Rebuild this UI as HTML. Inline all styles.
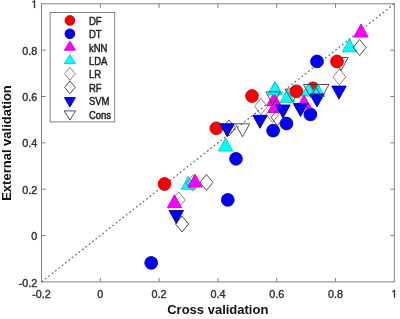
<!DOCTYPE html>
<html><head><meta charset="utf-8"><style>
html,body{margin:0;padding:0;background:#fff;width:400px;height:319px;overflow:hidden}
svg{display:block;filter:blur(0.45px)}
text{font-family:"Liberation Sans",sans-serif}
.tl{font-size:10.8px;fill:#333;stroke:#333;stroke-width:0.4px}
.al{font-size:13px;font-weight:bold;fill:#111}
.lg{font-size:9.5px;fill:#222;stroke:#222;stroke-width:0.4px}
</style></head><body>
<svg width="400" height="319" viewBox="0 0 400 319">
<rect x="41.5" y="3.8" width="352.8" height="278.09999999999997" fill="#fff" stroke="#808080" stroke-width="1"/>
<line x1="100.30" y1="281.9" x2="100.30" y2="277.9" stroke="#808080" stroke-width="1"/>
<line x1="100.30" y1="3.8" x2="100.30" y2="7.8" stroke="#808080" stroke-width="1"/>
<line x1="41.5" y1="235.55" x2="45.5" y2="235.55" stroke="#808080" stroke-width="1"/>
<line x1="394.3" y1="235.55" x2="390.3" y2="235.55" stroke="#808080" stroke-width="1"/>
<line x1="159.10" y1="281.9" x2="159.10" y2="277.9" stroke="#808080" stroke-width="1"/>
<line x1="159.10" y1="3.8" x2="159.10" y2="7.8" stroke="#808080" stroke-width="1"/>
<line x1="41.5" y1="189.20" x2="45.5" y2="189.20" stroke="#808080" stroke-width="1"/>
<line x1="394.3" y1="189.20" x2="390.3" y2="189.20" stroke="#808080" stroke-width="1"/>
<line x1="217.90" y1="281.9" x2="217.90" y2="277.9" stroke="#808080" stroke-width="1"/>
<line x1="217.90" y1="3.8" x2="217.90" y2="7.8" stroke="#808080" stroke-width="1"/>
<line x1="41.5" y1="142.85" x2="45.5" y2="142.85" stroke="#808080" stroke-width="1"/>
<line x1="394.3" y1="142.85" x2="390.3" y2="142.85" stroke="#808080" stroke-width="1"/>
<line x1="276.70" y1="281.9" x2="276.70" y2="277.9" stroke="#808080" stroke-width="1"/>
<line x1="276.70" y1="3.8" x2="276.70" y2="7.8" stroke="#808080" stroke-width="1"/>
<line x1="41.5" y1="96.50" x2="45.5" y2="96.50" stroke="#808080" stroke-width="1"/>
<line x1="394.3" y1="96.50" x2="390.3" y2="96.50" stroke="#808080" stroke-width="1"/>
<line x1="335.50" y1="281.9" x2="335.50" y2="277.9" stroke="#808080" stroke-width="1"/>
<line x1="335.50" y1="3.8" x2="335.50" y2="7.8" stroke="#808080" stroke-width="1"/>
<line x1="41.5" y1="50.15" x2="45.5" y2="50.15" stroke="#808080" stroke-width="1"/>
<line x1="394.3" y1="50.15" x2="390.3" y2="50.15" stroke="#808080" stroke-width="1"/>
<line x1="41.5" y1="281.9" x2="394.3" y2="3.8" stroke="#606060" stroke-width="1.1" stroke-dasharray="1.9 2.4"/>
<polygon points="333.80,57.50 348.20,57.50 341,70.50" fill="none" stroke="#404040" stroke-width="0.9"/>
<circle cx="164.5" cy="184" r="6.4" fill="#ff0000" stroke="#b00000" stroke-width="0.8"/>
<circle cx="216.3" cy="128.3" r="6.4" fill="#ff0000" stroke="#b00000" stroke-width="0.8"/>
<circle cx="252" cy="96" r="6.4" fill="#ff0000" stroke="#b00000" stroke-width="0.8"/>
<circle cx="313" cy="88.3" r="6.4" fill="#ff0000" stroke="#b00000" stroke-width="0.8"/>
<circle cx="337" cy="61.5" r="6.4" fill="#ff0000" stroke="#b00000" stroke-width="0.8"/>
<circle cx="151.2" cy="262.9" r="6.4" fill="#0000ff" stroke="#000090" stroke-width="0.8"/>
<circle cx="227.8" cy="199.9" r="6.4" fill="#0000ff" stroke="#000090" stroke-width="0.8"/>
<circle cx="236" cy="158.8" r="6.4" fill="#0000ff" stroke="#000090" stroke-width="0.8"/>
<circle cx="273.1" cy="130.6" r="6.4" fill="#0000ff" stroke="#000090" stroke-width="0.8"/>
<circle cx="286.5" cy="123.5" r="6.4" fill="#0000ff" stroke="#000090" stroke-width="0.8"/>
<circle cx="310.4" cy="114.4" r="6.4" fill="#0000ff" stroke="#000090" stroke-width="0.8"/>
<circle cx="317" cy="61.4" r="6.4" fill="#0000ff" stroke="#000090" stroke-width="0.8"/>
<polygon points="188.4,176.30 195.60,189.30 181.20,189.30" fill="#00ffff" stroke="#00c8c8" stroke-width="0.9"/>
<polygon points="225.6,138.00 232.80,151.00 218.40,151.00" fill="#00ffff" stroke="#00c8c8" stroke-width="0.9"/>
<polygon points="275,81.70 282.20,94.70 267.80,94.70" fill="#00ffff" stroke="#00c8c8" stroke-width="0.9"/>
<polygon points="287.3,89.30 294.50,102.30 280.10,102.30" fill="#00ffff" stroke="#00c8c8" stroke-width="0.9"/>
<polygon points="308.5,83.00 315.70,96.00 301.30,96.00" fill="#00ffff" stroke="#00c8c8" stroke-width="0.9"/>
<polygon points="317.5,83.50 324.70,96.50 310.30,96.50" fill="#00ffff" stroke="#00c8c8" stroke-width="0.9"/>
<polygon points="349.5,38.80 356.70,51.80 342.30,51.80" fill="#00ffff" stroke="#00c8c8" stroke-width="0.9"/>
<polygon points="178.7,192.00 185.20,200 178.7,208.00 172.20,200" fill="none" stroke="#8b6f6a" stroke-width="0.9"/>
<polygon points="192.6,175.20 199.10,183.2 192.6,191.20 186.10,183.2" fill="none" stroke="#8b6f6a" stroke-width="0.9"/>
<polygon points="261,98.50 267.50,106.5 261,114.50 254.50,106.5" fill="none" stroke="#8b6f6a" stroke-width="0.9"/>
<polygon points="272.5,106.50 279.00,114.5 272.5,122.50 266.00,114.5" fill="none" stroke="#8b6f6a" stroke-width="0.9"/>
<polygon points="339.3,69.00 345.80,77 339.3,85.00 332.80,77" fill="none" stroke="#8b6f6a" stroke-width="0.9"/>
<polygon points="174.5,194.70 181.70,207.70 167.30,207.70" fill="#ff00ff" stroke="#d000d0" stroke-width="0.9"/>
<polygon points="195,174.10 202.20,187.10 187.80,187.10" fill="#ff00ff" stroke="#d000d0" stroke-width="0.9"/>
<polygon points="274,92.50 281.20,105.50 266.80,105.50" fill="#ff00ff" stroke="#d000d0" stroke-width="0.9"/>
<polygon points="275,99.50 282.20,112.50 267.80,112.50" fill="#ff00ff" stroke="#d000d0" stroke-width="0.9"/>
<polygon points="304,95.00 311.20,108.00 296.80,108.00" fill="#ff00ff" stroke="#d000d0" stroke-width="0.9"/>
<polygon points="361,24.00 368.20,37.00 353.80,37.00" fill="#ff00ff" stroke="#d000d0" stroke-width="0.9"/>
<polygon points="275,81.70 282.20,94.70 267.80,94.70" fill="#00ffff" stroke="#00c8c8" stroke-width="0.9"/>
<polygon points="182,216.00 188.50,224 182,232.00 175.50,224" fill="none" stroke="#3c3c3c" stroke-width="0.9"/>
<polygon points="206.4,174.40 212.90,182.4 206.4,190.40 199.90,182.4" fill="none" stroke="#3c3c3c" stroke-width="0.9"/>
<polygon points="229,120.00 235.50,128 229,136.00 222.50,128" fill="none" stroke="#3c3c3c" stroke-width="0.9"/>
<polygon points="359.6,39.50 366.10,47.5 359.6,55.50 353.10,47.5" fill="none" stroke="#3c3c3c" stroke-width="0.9"/>
<polygon points="277.5,109.50 284.00,117.5 277.5,125.50 271.00,117.5" fill="none" stroke="#3c3c3c" stroke-width="0.9"/>
<polygon points="169.10,210.50 183.50,210.50 176.3,223.50" fill="#0000ff" stroke="#000090" stroke-width="0.9"/>
<polygon points="220.00,123.70 234.40,123.70 227.2,136.70" fill="#0000ff" stroke="#000090" stroke-width="0.9"/>
<polygon points="252.80,115.30 267.20,115.30 260,128.30" fill="#0000ff" stroke="#000090" stroke-width="0.9"/>
<polygon points="275.80,105.00 290.20,105.00 283,118.00" fill="#0000ff" stroke="#000090" stroke-width="0.9"/>
<polygon points="293.30,103.50 307.70,103.50 300.5,116.50" fill="#0000ff" stroke="#000090" stroke-width="0.9"/>
<polygon points="309.80,94.00 324.20,94.00 317,107.00" fill="#0000ff" stroke="#000090" stroke-width="0.9"/>
<polygon points="331.80,86.10 346.20,86.10 339,99.10" fill="#0000ff" stroke="#000090" stroke-width="0.9"/>
<polygon points="235.30,123.80 249.70,123.80 242.5,136.80" fill="none" stroke="#404040" stroke-width="0.9"/>
<polygon points="265.80,91.90 280.20,91.90 273,104.90" fill="none" stroke="#404040" stroke-width="0.9"/>
<polygon points="303.50,84.50 317.90,84.50 310.7,97.50" fill="none" stroke="#404040" stroke-width="0.9"/>
<polygon points="314.60,84.50 329.00,84.50 321.8,97.50" fill="none" stroke="#404040" stroke-width="0.9"/>
<polygon points="285.30,89.00 299.70,89.00 292.5,102.00" fill="none" stroke="#404040" stroke-width="0.9"/>
<circle cx="296.3" cy="91.3" r="6.4" fill="#ff0000" stroke="#b00000" stroke-width="0.8"/>
<text x="41.50" y="297.5" text-anchor="middle" class="tl">-0.2</text>
<text x="37.3" y="286.50" text-anchor="end" class="tl">-0.2</text>
<text x="100.30" y="297.5" text-anchor="middle" class="tl">0</text>
<text x="37.3" y="240.15" text-anchor="end" class="tl">0</text>
<text x="159.10" y="297.5" text-anchor="middle" class="tl">0.2</text>
<text x="37.3" y="193.80" text-anchor="end" class="tl">0.2</text>
<text x="217.90" y="297.5" text-anchor="middle" class="tl">0.4</text>
<text x="37.3" y="147.45" text-anchor="end" class="tl">0.4</text>
<text x="276.70" y="297.5" text-anchor="middle" class="tl">0.6</text>
<text x="37.3" y="101.10" text-anchor="end" class="tl">0.6</text>
<text x="335.50" y="297.5" text-anchor="middle" class="tl">0.8</text>
<text x="37.3" y="54.75" text-anchor="end" class="tl">0.8</text>
<path d="M394.01,297.50 L394.01,290.98 L392.34,292.17 L392.34,291.28 L394.09,290.07 L394.97,290.07 L394.97,297.50 Z" fill="#333" stroke="#333" stroke-width="0.4"/>
<path d="M34.01,7.90 L34.01,1.38 L32.33,2.57 L32.33,1.68 L34.09,0.47 L34.96,0.47 L34.96,7.90 Z" fill="#333" stroke="#333" stroke-width="0.4"/>
<text x="217.8" y="313.7" text-anchor="middle" class="al">Cross validation</text>
<text transform="translate(11.3,143) rotate(-90)" x="0" y="0" text-anchor="middle" class="al">External validation</text>
<rect x="50.1" y="12.5" width="64.6" height="109.4" fill="#fff" stroke="#808080" stroke-width="1"/>
<circle cx="69.9" cy="20.45" r="4.9" fill="#ff0000" stroke="#b00000" stroke-width="0.8"/>
<text transform="translate(88.9,24.90) scale(1,1.14)" class="lg">DF</text>
<circle cx="69.9" cy="33.8" r="4.9" fill="#0000ff" stroke="#000090" stroke-width="0.8"/>
<text transform="translate(88.9,38.29) scale(1,1.14)" class="lg">DT</text>
<polygon points="69.9,41.20 75.50,50.20 64.30,50.20" fill="#ff00ff" stroke="#d000d0" stroke-width="0.9"/>
<text transform="translate(88.9,51.68) scale(1,1.14)" class="lg">kNN</text>
<polygon points="69.9,54.60 75.50,63.60 64.30,63.60" fill="#00ffff" stroke="#00c8c8" stroke-width="0.9"/>
<text transform="translate(88.9,65.07) scale(1,1.14)" class="lg">LDA</text>
<polygon points="69.9,67.30 75.20,73.8 69.9,80.30 64.60,73.8" fill="none" stroke="#8b6f6a" stroke-width="0.9"/>
<text transform="translate(88.9,78.46) scale(1,1.14)" class="lg">LR</text>
<polygon points="69.9,80.90 75.20,87.3 69.9,93.70 64.60,87.3" fill="none" stroke="#3c3c3c" stroke-width="0.9"/>
<text transform="translate(88.9,91.85) scale(1,1.14)" class="lg">RF</text>
<polygon points="64.40,97.60 75.40,97.60 69.9,107.00" fill="#0000ff" stroke="#000090" stroke-width="0.9"/>
<text transform="translate(88.9,105.24) scale(1,1.14)" class="lg">SVM</text>
<polygon points="64.20,110.90 75.60,110.90 69.9,120.10" fill="none" stroke="#404040" stroke-width="0.9"/>
<text transform="translate(88.9,118.63) scale(1,1.14)" class="lg">Cons</text>
</svg>
</body></html>
